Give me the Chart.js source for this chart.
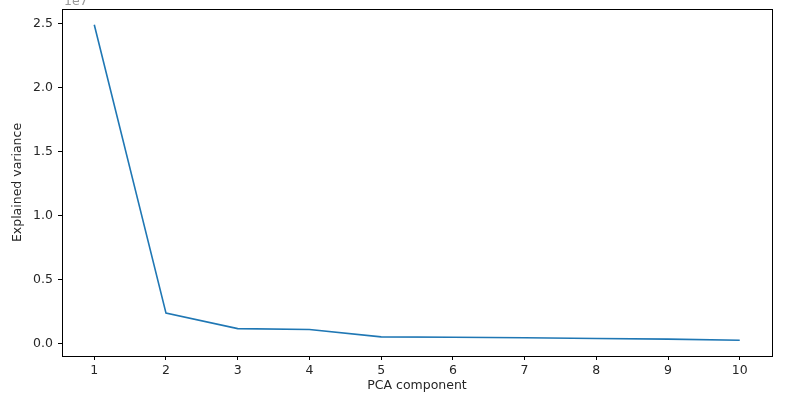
<!DOCTYPE html>
<html>
<head>
<meta charset="utf-8">
<script src="https://cdn.jsdelivr.net/npm/chart.js@4/dist/chart.umd.min.js"></script>
<style>
  html, body { margin: 0; padding: 0; background: #fff; }
  #wrap { width: 789px; height: 411px; }
</style>
</head>
<body>
<div id="wrap"><canvas id="pca"></canvas></div>
<script>
// scree plot - values shown in units of 1e7
const components = [1, 2, 3, 4, 5, 6, 7, 8, 9, 10];
const explainedVariance = [2.49, 0.238, 0.117, 0.110, 0.052, 0.049, 0.045, 0.040, 0.035, 0.026];
const xTicks = [1, 2, 3, 4, 5, 6, 7, 8, 9, 10];
const yTicks = [0.0, 0.5, 1.0, 1.5, 2.0, 2.5];
const offsetLabel = "1e7";

const TEXT = "#262626";
const FONT = { family: "DejaVu Sans", size: 12.5 };

// matplotlib-like 5% margins
const xMin = Math.min(...components), xMax = Math.max(...components);
const yMin = Math.min(...explainedVariance), yMax = Math.max(...explainedVariance);
const xPad = (xMax - xMin) * 0.05, yPad = (yMax - yMin) * 0.05;

const frame = {
  id: "frame",
  afterDraw(chart) {
    const { ctx, chartArea: a } = chart;
    ctx.save();
    ctx.strokeStyle = "#000";
    ctx.lineWidth = 1;
    ctx.strokeRect(Math.round(a.left) + 0.5, Math.round(a.top) + 0.5,
      Math.round(a.right - a.left), Math.round(a.bottom - a.top));
    ctx.fillStyle = "#9a9a9a";
    ctx.font = "12.5px 'DejaVu Sans'";
    ctx.textBaseline = "alphabetic";
    ctx.fillText(offsetLabel, a.left + 2, 5);
    ctx.restore();
  }
};

new Chart(document.getElementById("pca"), {
  type: "line",
  data: {
    datasets: [
      {
        data: components.map((c, i) => ({ x: c, y: explainedVariance[i] })),
        borderColor: "#1f77b4",
        borderWidth: 1.6,
        pointRadius: 0,
        tension: 0,
        fill: false
      }
    ]
  },
  options: {
    animation: false,
    responsive: true,
    maintainAspectRatio: false,
    layout: { padding: { top: 9, right: 17, left: 0, bottom: 0 } },
    plugins: { legend: { display: false }, tooltip: { enabled: false } },
    scales: {
      x: {
        type: "linear",
        min: xMin - xPad,
        max: xMax + xPad,
        afterBuildTicks: (s) => { s.ticks = xTicks.map(v => ({ value: v })); },
        afterFit: (s) => { s.height = 55; s.paddingLeft = 0; s.paddingRight = 0; },
        ticks: { color: TEXT, font: FONT, padding: 3, callback: (v) => String(v) },
        grid: { drawOnChartArea: false, drawTicks: true, tickLength: 4, tickColor: "#000" },
        border: { display: true, color: "#000" },
        title: { display: true, text: "PCA component", color: TEXT, font: FONT, padding: { top: 0, bottom: 17.5 } }
      },
      y: {
        type: "linear",
        min: yMin - yPad,
        max: yMax + yPad,
        afterBuildTicks: (s) => { s.ticks = yTicks.map(v => ({ value: v })); },
        afterFit: (s) => { s.width = 62; s.paddingTop = 0; s.paddingBottom = 0; },
        ticks: { color: TEXT, font: FONT, padding: 5, callback: (v) => v.toFixed(1) },
        grid: { drawOnChartArea: false, drawTicks: true, tickLength: 4, tickColor: "#000" },
        border: { display: true, color: "#000" },
        title: { display: true, text: "Explained variance", color: TEXT, font: FONT, padding: { top: 10.5, bottom: 0 } }
      }
    }
  },
  plugins: [frame]
});
</script>
</body>
</html>
